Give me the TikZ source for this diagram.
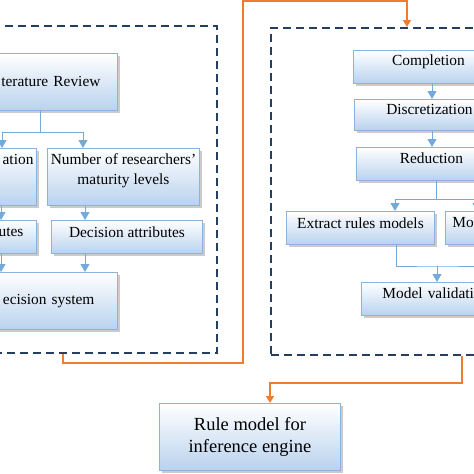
\documentclass[tikz,border=0pt]{standalone}
\usepackage{fontspec}
\setmainfont{Liberation Serif}
\usetikzlibrary{arrows.meta,shadows}
\definecolor{boxline}{HTML}{8DB3DC}
\definecolor{boxbot}{HTML}{B9D2EE}
\definecolor{arrblue}{HTML}{5B9BD5}
\definecolor{dashc}{HTML}{243F60}
\definecolor{orangec}{HTML}{ED7D31}
\newcommand\liftup[2]{\raisebox{0pt}[\height][\dimexpr\depth+#1+#1\relax]{#2}}
\begin{document}
\begin{tikzpicture}[x=1pt,y=-1pt,
  box/.style={draw=boxline, line width=0.9pt, top color=white, bottom color=boxbot,
    drop shadow={shadow xshift=2.5pt, shadow yshift=-2.5pt, fill=black!45, opacity=.45},
    inner sep=0pt, font=\fontsize{15.4}{20}\selectfont, anchor=north west},
  bigbox/.style={box, font=\fontsize{18.5}{22}\selectfont},
  grp/.style={draw=dashc, line width=1.8pt, dash pattern=on 8pt off 5pt, anchor=north west, inner sep=0pt},
  conn/.style={draw=arrblue!85, line width=1pt},
  arr/.style={conn, -{Triangle[width=9pt,length=8pt]}},
  oarr/.style={draw=orangec, line width=1.8pt, -{Triangle[width=8pt,length=7pt]}}]
\useasboundingbox (0,0) rectangle (474,474);

% groups
\node[grp, minimum width=236pt, minimum height=327pt] (lgrp) at (-20,25) {};
\node[grp, minimum width=230pt, minimum height=327pt] (rgrp) at (270,27) {};

% left group boxes
\node[box, text width=151pt, align=right, minimum height=57pt] (lit) at (-34,53) {terature Review\rule{17pt}{0pt}};
\node[box, text width=116pt, align=right, minimum height=57pt] (ident) at (-80,148) {\liftup{17pt}{ation}\rule{3pt}{0pt}};
\node[box, minimum width=152pt, minimum height=57pt] (num) at (47,148) {\liftup{6pt}{\begin{tabular}{@{}c@{}}Number of researchers’\\maturity levels\end{tabular}}};
\node[box, text width=116pt, align=right, minimum height=33pt] (utes) at (-80,220) {\liftup{5pt}{utes}\rule{13pt}{0pt}};
\node[box, minimum width=151pt, minimum height=33pt] (dec) at (51,220) {\liftup{5pt}{Decision attributes}};
\node[box, text width=151pt, align=right, minimum height=57pt] (sys) at (-34,272) {ecision system\rule{23pt}{0pt}};

% right group boxes
\node[box, minimum width=150pt, minimum height=33pt] (comp) at (353,50) {\liftup{5pt}{Completion}};
\node[box, minimum width=150pt, minimum height=31pt] (disc) at (354,99) {\liftup{5pt}{Discretization}};
\node[box, minimum width=150pt, minimum height=33pt] (red) at (356,147) {\liftup{6pt}{Reduction}};
\node[box, minimum width=148pt, minimum height=33pt] (ext) at (286,211) {\liftup{5pt}{Extract rules models}};
\node[box, text width=148pt, align=left, minimum height=33pt] (mo) at (445,211) {\hspace*{7pt}\liftup{5pt}{Mo}};
\node[box, text width=150pt, align=left, minimum height=33pt] (val) at (361,282) {\hspace*{21pt}\liftup{6pt}{Model validati}};

% final box
\node[bigbox, minimum width=181pt, minimum height=67pt] (final) at (159,403) {\begin{tabular}{@{}c@{}}Rule model for\\inference engine\end{tabular}};

% left connectors
\coordinate (j1) at (40,132);
\draw[conn] (lit.south -| 40,0) -- (j1);
\draw[arr] (j1) -| (num.north -| 83,0);
\draw[arr] (j1) -| (ident.north -| 2,0);
\draw[arr] (num.south -| 85,0) -- (dec.north -| 85,0);
\draw[arr] (ident.south -| 1,0) -- (utes.north -| 1,0);
\draw[arr] (dec.south -| 85,0) -- (sys.north -| 85,0);
\draw[arr] (utes.south -| 1,0) -- (sys.north -| 1,0);

% right connectors
\draw[arr] (comp.south -| 432,0) -- (disc.north -| 432,0);
\draw[arr] (disc.south -| 432,0) -- (red.north -| 432,0);
\coordinate (j2) at (436,199);
\draw[conn] (red.south -| 436,0) -- (j2);
\draw[arr] (j2) -| (ext.north -| 395,0);
\draw[arr] (j2) -| (mo.north -| 477,0);
\coordinate (j3) at (437,266);
\draw[conn] (ext.south -| 396,0) |- (j3) -| (mo.south -| 480,0);
\draw[arr] (j3) -- (val.north -| 437,0);

% orange connectors
\coordinate (o1) at (63,363);
\coordinate (o2) at (243,363);
\coordinate (o3) at (243,1);
\coordinate (o4) at (407,1);
\draw[oarr] (lgrp.south -| 63,0) -- (o1) -- (o2) -- (o3) -- (o4) -- (rgrp.north -| 407,0);
\coordinate (o5) at (462,383);
\coordinate (o6) at (270,383);
\draw[oarr] (rgrp.south -| 462,0) -- (o5) -- (o6) -- (final.north -| 270,0);
\end{tikzpicture}
\end{document}
